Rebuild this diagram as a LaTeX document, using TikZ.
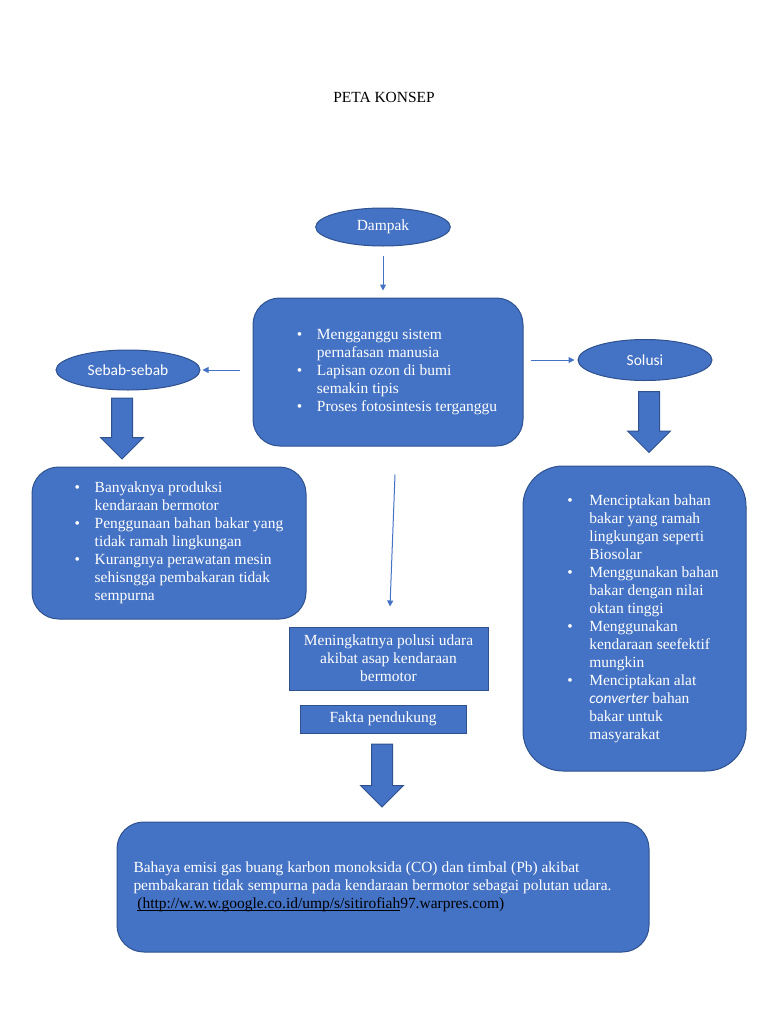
\documentclass[tikz,border=0pt]{standalone}
\usepackage{fontspec}
\setmainfont{Liberation Serif}
\newfontfamily\calfont{Carlito}
\usepackage{xcolor}
\usepackage{tikz}
\usetikzlibrary{arrows.meta,calc,positioning,shapes.geometric,shapes.arrows}
\definecolor{boxblue}{HTML}{4472C4}
\definecolor{boxedge}{HTML}{2F528F}
\newcommand{\bul}{\textbullet}
\newsavebox{\ulnbox}
\newcommand{\uln}[1]{\sbox{\ulnbox}{#1}\rlap{\rule[-1.6pt]{\wd\ulnbox}{0.5pt}}\usebox{\ulnbox}}

\begin{document}
\begin{tikzpicture}[x=0.75pt, y=-0.75pt,
    every node/.style={font=\fontsize{11.6}{13.5}\selectfont},
    calibri/.style={font=\calfont\fontsize{11.6}{13.5}\selectfont},
    blob/.style={ellipse, draw=boxedge, fill=boxblue, line width=0.75pt, text=white, inner sep=0pt},
    panel/.style={rectangle, rounded corners=20pt, draw=boxedge, fill=boxblue, line width=0.75pt, text=white, inner sep=0pt},
    plate/.style={rectangle, draw=boxedge, fill=boxblue, line width=0.75pt, text=white, inner sep=0pt, align=center},
    fatarrow/.style={single arrow, shape border rotate=270, draw=boxedge, fill=boxblue, line width=0.75pt, inner sep=7.5pt, minimum height=45.75pt, minimum width=31.5pt, single arrow head extend=8.25pt, anchor=tail},
    link/.style={draw=boxblue, line width=0.75pt, -{Triangle[length=4.5pt,width=4.5pt]}}]
        \useasboundingbox (0,0) rectangle (768,1024);
        \node (title) at (384,97) {PETA KONSEP};
        \node[blob, minimum width=101pt, minimum height=28.5pt] (dampak) at (383,227) {Dampak};
        \node[panel, minimum width=202.5pt, minimum height=111pt] (akibat) at (388,372) {\begin{tabular}{@{\hspace{13.5pt}}p{15pt}@{}l@{}}
            \bul & Mengganggu sistem\\
                 & pernafasan manusia\\
            \bul & Lapisan ozon di bumi\\
                 & semakin tipis\\
            \bul & Proses fotosintesis terganggu
        \end{tabular}};
        \draw[link, shorten <=6.75pt, shorten >=5.25pt] (dampak.south) -- (dampak.south |- akibat.north);
        \node[blob, calibri, minimum width=108pt, minimum height=30pt] (sebab) at (128,370) {Sebab-sebab};
        \draw[link, shorten <=9.75pt, shorten >=1.5pt] (akibat.west |- sebab.east) -- (sebab.east);
        \node[blob, calibri, minimum width=100.5pt, minimum height=30.75pt] (solusi) at (645,360) {Solusi};
        \draw[link, shorten <=5.25pt, shorten >=2.25pt] (akibat.east |- solusi.west) -- (solusi.west);
        \node[fatarrow] (sebabarrow) at ($(sebab.south)+(-6,7)$) {};
        \node[fatarrow] (solusiarrow) at ($(solusi.south)+(4,10)$) {};
        \node[panel, minimum width=205.5pt, minimum height=114pt] (sebablist) at (169,543) {\begin{tabular}{@{\hspace{15pt}}p{15pt}@{}l@{}}
            \bul & Banyaknya produksi\\
                 & kendaraan bermotor\\
            \bul & Penggunaan bahan bakar yang\\
                 & tidak ramah lingkungan\\
            \bul & Kurangnya perawatan mesin\\
                 & sehisngga pembakaran tidak\\
                 & sempurna
        \end{tabular}};
        \node[panel, rounded corners=30pt, minimum width=167.25pt, minimum height=228.75pt] (solusilist) at (634.5,618.5) {\begin{tabular}{@{\hspace{12.75pt}}p{16.5pt}@{}l@{}}
            \bul & Menciptakan bahan\\
                 & bakar yang ramah\\
                 & lingkungan seperti\\
                 & Biosolar\\
            \bul & Menggunakan bahan\\
                 & bakar dengan nilai\\
                 & oktan tinggi\\
            \bul & Menggunakan\\
                 & kendaraan seefektif\\
                 & mungkin\\
            \bul & Menciptakan alat\\
                 & {\calfont\itshape converter} bahan\\
                 & bakar untuk\\
                 & masyarakat
        \end{tabular}};
        \node[plate, minimum width=149.25pt, minimum height=47.25pt] (polusi) at (388.5,658.5) {Meningkatnya polusi udara\\akibat asap kendaraan\\bermotor};
        \draw[link] ($(akibat.south)+(7,28)$) -- ($(polusi.north)+(1.5,-20)$);
        \node[plate, minimum width=124.5pt, minimum height=21pt] (fakta) at (383,719) {Fakta pendukung};
        \node[fatarrow, minimum height=47.25pt] (faktaarrow) at ($(fakta.south)+(-1,10)$) {};
        \node[panel, minimum width=399pt, minimum height=97.5pt] (bukti) at (383,887) {\begin{tabular}{@{}l@{\hspace{15.75pt}}}
            Bahaya emisi gas buang karbon monoksida (CO) dan timbal (Pb) akibat\\
            pembakaran tidak sempurna pada kendaraan bermotor sebagai polutan udara.\\
            \color{black}\ \uln{(http://w.w.w.google.co.id/ump/s/sitirofiah}97.warpres.com)
        \end{tabular}};
\end{tikzpicture}
\end{document}
